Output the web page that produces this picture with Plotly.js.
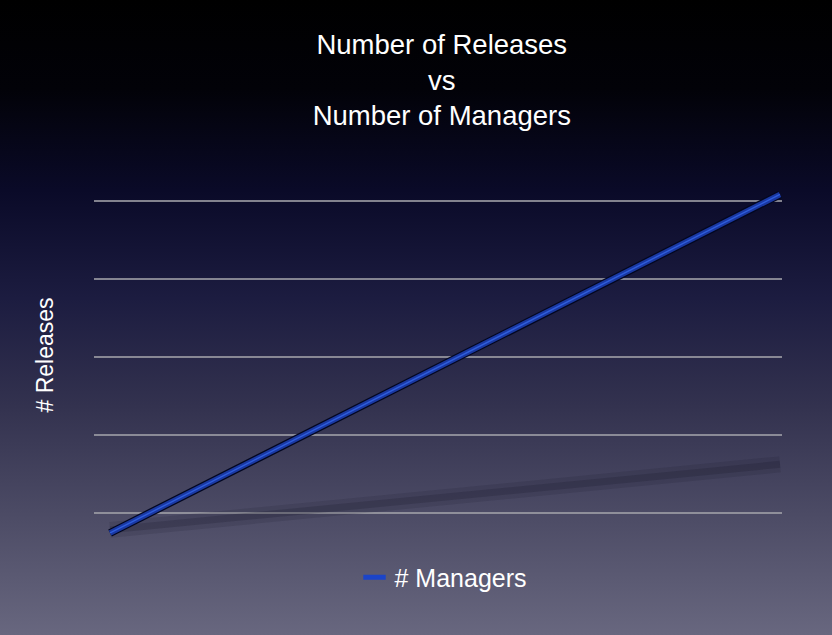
<!DOCTYPE html>
<html>
<head>
<meta charset="utf-8">
<script src="https://cdn.plot.ly/plotly-3.0.1.min.js"></script>
<style>
  html, body { margin: 0; padding: 0; }
  body {
    width: 832px; height: 635px; overflow: hidden;
    background: linear-gradient(to bottom, #000000 0%, #020208 14%, #0a0a28 30%, #1c1c40 47%, #33324f 64%, #4c4b65 81%, #68677f 100%);
  }
  #chart { width: 832px; height: 635px; }
</style>
</head>
<body>
<div id="chart"></div>
<script>
// Data
const managers = [0, 1];
const releases = [-0.26, 4.08];
const shadowX = [0, 1];
const shadowY = [-0.22, 0.62];
const seriesName = "# Managers";
const chartTitle = "Number of Releases<br>vs<br>Number of Managers";
const yTitle = "# Releases";

const FONT = "Liberation Sans, Arial, sans-serif";

const traces = [
  { x: shadowX, y: shadowY, mode: "lines", showlegend: false, hoverinfo: "skip",
    line: { color: "rgba(15,15,35,0.12)", width: 16 } },
  { x: shadowX, y: shadowY, mode: "lines", showlegend: false, hoverinfo: "skip",
    line: { color: "rgba(15,15,35,0.18)", width: 7 } },
  { x: managers, y: releases, mode: "lines", showlegend: false, hoverinfo: "skip",
    line: { color: "#030720", width: 8 } },
  { x: managers, y: releases, mode: "lines", showlegend: false, hoverinfo: "skip",
    line: { color: "#1a38a2", width: 5.5 } },
  { x: managers, y: releases, mode: "lines", showlegend: false, hoverinfo: "skip",
    line: { color: "rgba(55,110,245,0.7)", width: 1.4 } },
  // legend entry
  { x: [null], y: [null], mode: "markers", name: seriesName,
    marker: { symbol: "line-ew", size: 17, color: "#1b44c8",
              line: { color: "#1b44c8", width: 5 } } }
];

const layout = {
  width: 832, height: 635,
  paper_bgcolor: "rgba(0,0,0,0)",
  plot_bgcolor: "rgba(0,0,0,0)",
  margin: { l: 94, r: 50, t: 189, b: 95 },
  title: {
    text: chartTitle,
    font: { family: FONT, size: 27.5, color: "#ffffff" },
    x: 0.531, xanchor: "center", y: 0.915, yanchor: "top"
  },
  xaxis: {
    range: [-0.024, 1.003], showgrid: false, zeroline: false,
    showticklabels: false, showline: false, ticks: ""
  },
  yaxis: {
    range: [-0.35, 4.15], dtick: 1, tick0: 0,
    showgrid: true, gridcolor: "rgba(160,160,168,0.8)", gridwidth: 2,
    zeroline: false, showticklabels: false, showline: false, ticks: ""
  },
  annotations: [{
    text: yTitle, textangle: -90, showarrow: false,
    xref: "paper", yref: "paper", x: -0.0714, y: 0.528,
    xanchor: "center", yanchor: "middle",
    font: { family: FONT, size: 23, color: "#ffffff" }
  }],
  showlegend: true,
  legend: {
    orientation: "h", x: 0.508, xanchor: "center", y: -0.107, yanchor: "middle",
    font: { family: FONT, size: 25, color: "#ffffff" },
    bgcolor: "rgba(0,0,0,0)", itemwidth: 30
  }
};

Plotly.newPlot("chart", traces, layout, { displayModeBar: false, staticPlot: true });
</script>
</body>
</html>
